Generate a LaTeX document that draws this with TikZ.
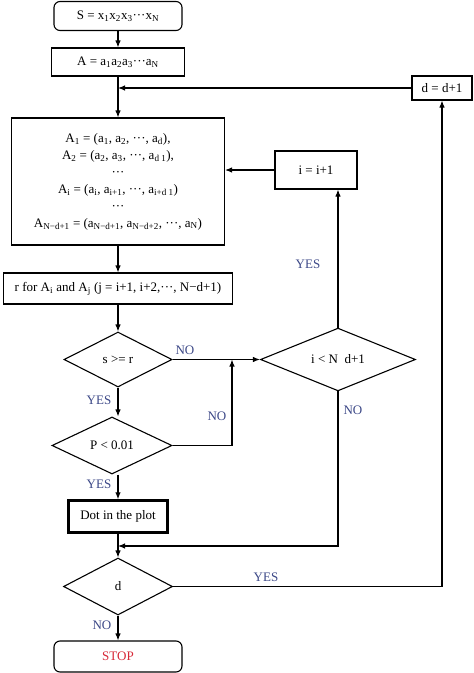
\documentclass[tikz,border=0pt]{standalone}
\usepackage{fontspec}
\setmainfont{Liberation Serif}
\usetikzlibrary{shapes.geometric,arrows.meta}
\definecolor{lab}{RGB}{60,72,135}
\definecolor{stopred}{RGB}{215,40,55}
\newcommand{\sbs}[1]{\textsubscript{#1}}
\begin{document}
\begin{tikzpicture}[x=1pt,y=-1pt, line width=1.1pt,
  every node/.style={font=\fontsize{13}{15}\selectfont, inner sep=0pt},
  box/.style={draw, rectangle},
  rbox/.style={draw, rectangle, rounded corners=6pt},
  dia/.style={draw, diamond},
  arr/.style={-{Latex[length=7pt,width=5.5pt]}},
  lbl/.style={text=lab}]
\useasboundingbox (0,0) rectangle (474,673);

\node[rbox, minimum width=128pt, minimum height=29pt] (S) at (118,16) {S = x\sbs{1}x\sbs{2}x\sbs{3}···x\sbs{N}};
\node[box, minimum width=133pt, minimum height=28pt] (A) at (118,62) {A = a\sbs{1}a\sbs{2}a\sbs{3}···a\sbs{N}};
\node[box, minimum width=213pt, minimum height=127pt, align=center, font=\fontsize{13}{17}\selectfont] (big) at (118,181.5)
 {A\sbs{1} = (a\sbs{1}, a\sbs{2}, ···, a\sbs{d}),\\
  A\sbs{2} = (a\sbs{2}, a\sbs{3}, ···, a\sbs{d 1}),\\
  ···\\
  A\sbs{i} = (a\sbs{i}, a\sbs{i+1}, ···, a\sbs{i+d 1})\\
  ···\\
  A\sbs{N−d+1} = (a\sbs{N−d+1}, a\sbs{N−d+2}, ···, a\sbs{N})};
\node[box, minimum width=229pt, minimum height=31pt] (r) at (118,288.5) {r for A\sbs{i} and A\sbs{j} (j = i+1, i+2,···, N−d+1)};
\node[dia, minimum width=108pt, minimum height=55pt] (s) at (118,359.5) {s >= r};
\node[dia, minimum width=155pt, minimum height=57pt] (inn) at (338,359.5) {i < N\ \ d+1};
\node[box, minimum width=82pt, minimum height=38pt] (ii) at (316,170) {i = i+1};
\node[box, minimum width=60pt, minimum height=24pt] (dd) at (442,88) {d = d+1};
\node[dia, minimum width=120pt, minimum height=57pt] (p) at (112,445.5) {P < 0.01};
\node[box, line width=2.4pt, minimum width=99pt, minimum height=32pt] (dot) at (118,516.5) {Dot in the plot};
\node[dia, minimum width=109pt, minimum height=57pt] (dq) at (118,586.5) {d};
\node[rbox, minimum width=128pt, minimum height=31pt, text=stopred] (stop) at (118,656.5) {STOP};

\coordinate (j1) at (118,88);
\coordinate (j2) at (232,359.5);
\coordinate (j3) at (118,546);

\draw[arr] (S) -- (A);
\draw[arr] (A) -- (big);
\draw[arr] (dd.west) -- (j1);
\draw[arr] (big) -- (r);
\draw[arr] (r) -- (s);
\draw[arr] (s.east) -- (inn.west);
\draw[arr] (s.south) -- (s.south |- p.north);
\draw[arr] (p.east) -| (j2);
\draw[arr] (dot.north |- p.south) -- (dot.north);
\draw[arr] (dot) -- (dq);
\draw[arr] (inn.south) |- (j3);
\draw[arr] (inn.north) -- (inn.north |- ii.south);
\draw[arr] (ii.west) -- (ii.west -| big.east);
\draw[arr] (dq.east) -| (dd.south);
\draw[arr] (dq) -- (stop);

\node[lbl] (l1) at (185,350) {NO};
\node[lbl] (l2) at (99,400) {YES};
\node[lbl] (l3) at (217,416) {NO};
\node[lbl] (l4) at (99,484) {YES};
\node[lbl] (l5) at (353,410) {NO};
\node[lbl] (l6) at (308,264) {YES};
\node[lbl] (l7) at (266,577) {YES};
\node[lbl] (l8) at (102,625) {NO};
\end{tikzpicture}
\end{document}
